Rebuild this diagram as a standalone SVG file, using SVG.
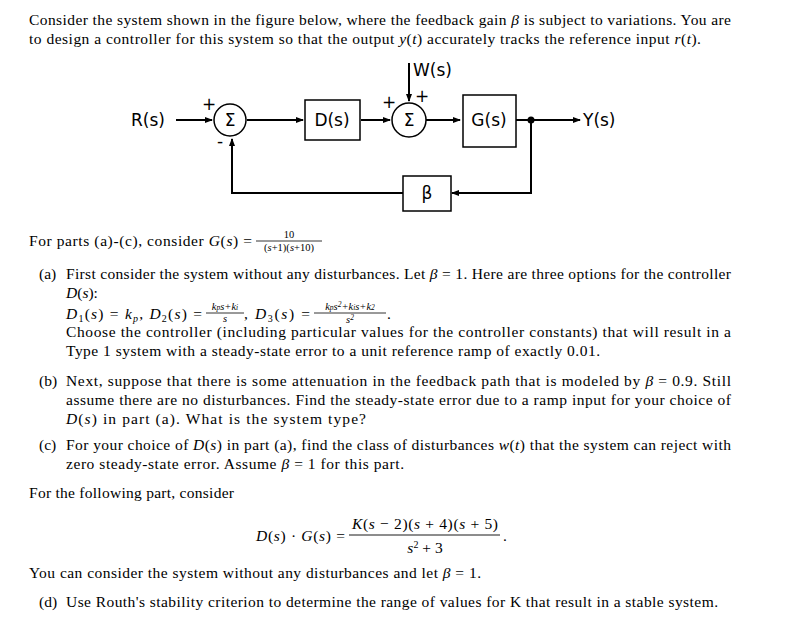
<svg xmlns="http://www.w3.org/2000/svg" width="793" height="620" viewBox="0 0 793 620">
<style>
.t{font-family:"Liberation Serif",serif;font-size:15.5px;fill:#000}
.s{font-family:"Liberation Serif",serif;font-size:10.5px;fill:#000}
.d{font-family:"DejaVu Sans",sans-serif;font-size:17px;fill:#000}
.b{fill:#fff;stroke:#000;stroke-width:1.5}
.w{fill:none;stroke:#000;stroke-width:2}
</style>
<defs><marker id="a" markerWidth="8" markerHeight="8" refX="7" refY="4" orient="auto" markerUnits="userSpaceOnUse"><path d="M0,1 L8,4 L0,7 z" fill="#000"/></marker></defs>
<rect width="793" height="620" fill="#fff"/>
<g id="connectors" class="w">
<path d="M176,120 H212" marker-end="url(#a)"/>
<path d="M247,120 H303" marker-end="url(#a)"/>
<path d="M361,120 H390" marker-end="url(#a)"/>
<path d="M409,63 V101" marker-end="url(#a)"/>
<path d="M426,120 H460" marker-end="url(#a)"/>
<path d="M516,120 H580" marker-end="url(#a)"/>
<path d="M531,120 V193 H452" marker-end="url(#a)"/>
<path d="M403,193 H232 V139" marker-end="url(#a)"/>
<circle cx="531" cy="120" r="2.5" fill="#000"/>
</g>
<g id="R"><text class="d" x="131" y="126">R(s)</text></g>
<g id="sum1"><circle class="b" cx="230" cy="120" r="16"/><text class="d" x="230" y="126" text-anchor="middle">Σ</text><text class="d" x="202" y="110">+</text><text class="d" x="217" y="147">-</text></g>
<g id="D"><rect class="b" x="305" y="100" width="55" height="40"/><text class="d" x="332" y="126" text-anchor="middle">D(s)</text></g>
<g id="sum2"><circle class="b" cx="409" cy="120" r="17"/><text class="d" x="409" y="126" text-anchor="middle">Σ</text><text class="d" x="382" y="108">+</text><text class="d" x="415" y="102">+</text></g>
<g id="W"><text class="d" x="413" y="76">W(s)</text></g>
<g id="G"><rect class="b" x="463" y="95" width="53" height="52"/><text class="d" x="489" y="126" text-anchor="middle">G(s)</text></g>
<g id="Y"><text class="d" x="583" y="126">Y(s)</text></g>
<g id="beta"><rect class="b" x="403" y="176" width="48" height="35"/><text class="d" x="427" y="199" text-anchor="middle">β</text></g>
<g id="text">
<text class="t" x="29" y="25" textLength="702" lengthAdjust="spacing">Consider the system shown in the figure below, where the feedback gain <tspan font-style="italic">β</tspan> is subject to variations. You are</text>
<text class="t" x="29" y="44" textLength="672" lengthAdjust="spacing">to design a controller for this system so that the output <tspan font-style="italic">y</tspan>(<tspan font-style="italic">t</tspan>) accurately tracks the reference input <tspan font-style="italic">r</tspan>(<tspan font-style="italic">t</tspan>).</text>
<text class="t" x="29" y="246" textLength="223" lengthAdjust="spacing">For parts (a)-(c), consider <tspan font-style="italic">G</tspan>(<tspan font-style="italic">s</tspan>) =</text>
<text class="s" x="289" y="238" text-anchor="middle">10</text>
<line x1="256" y1="241" x2="322" y2="241" stroke="#000" stroke-width="0.8"/>
<text class="s" x="289" y="251" text-anchor="middle">(<tspan font-style="italic">s</tspan>+1)(<tspan font-style="italic">s</tspan>+10)</text>
<text class="t" x="39" y="279">(a)</text>
<text class="t" x="66" y="279" textLength="665" lengthAdjust="spacing">First consider the system without any disturbances. Let <tspan font-style="italic">β</tspan> = 1. Here are three options for the controller</text>
<text class="t" x="66" y="298"><tspan font-style="italic">D</tspan>(<tspan font-style="italic">s</tspan>):</text>
<text class="t" x="66" y="319" textLength="136" lengthAdjust="spacing"><tspan font-style="italic">D</tspan><tspan font-size="10" dy="3">1</tspan><tspan dy="-3">(</tspan><tspan font-style="italic">s</tspan>) = <tspan font-style="italic">k</tspan><tspan font-size="10" font-style="italic" dy="3">p</tspan><tspan dy="-3">, </tspan><tspan font-style="italic">D</tspan><tspan font-size="10" dy="3">2</tspan><tspan dy="-3">(</tspan><tspan font-style="italic">s</tspan>) =</text>
<text class="s" x="225" y="310" text-anchor="middle" font-style="italic">k<tspan font-size="7.5">p</tspan>s+k<tspan font-size="7.5">i</tspan></text>
<line x1="206" y1="313" x2="244" y2="313" stroke="#000" stroke-width="0.8"/>
<text class="s" x="225" y="322" text-anchor="middle" font-style="italic">s</text>
<text class="t" x="244" y="319" textLength="66" lengthAdjust="spacing">, <tspan font-style="italic">D</tspan><tspan font-size="10" dy="3">3</tspan><tspan dy="-3">(</tspan><tspan font-style="italic">s</tspan>) =</text>
<text class="s" x="350" y="310" text-anchor="middle" font-style="italic">k<tspan font-size="7.5">p</tspan>s<tspan font-size="7.5" dy="-3">2</tspan><tspan dy="3">+k</tspan><tspan font-size="7.5">i</tspan>s+k<tspan font-size="7.5">2</tspan></text>
<line x1="314" y1="313" x2="386" y2="313" stroke="#000" stroke-width="0.8"/>
<text class="s" x="350" y="323" text-anchor="middle" font-style="italic">s<tspan font-size="7.5" dy="-3">2</tspan></text>
<text class="t" x="387" y="319">.</text>
<text class="t" x="66" y="337" textLength="665" lengthAdjust="spacing">Choose the controller (including particular values for the controller constants) that will result in a</text>
<text class="t" x="66" y="356" textLength="534" lengthAdjust="spacing">Type 1 system with a steady-state error to a unit reference ramp of exactly 0.01.</text>
<text class="t" x="39" y="386">(b)</text>
<text class="t" x="66" y="386" textLength="665" lengthAdjust="spacing">Next, suppose that there is some attenuation in the feedback path that is modeled by <tspan font-style="italic">β</tspan> = 0.9. Still</text>
<text class="t" x="66" y="405" textLength="665" lengthAdjust="spacing">assume there are no disturbances. Find the steady-state error due to a ramp input for your choice of</text>
<text class="t" x="66" y="424" textLength="300" lengthAdjust="spacing"><tspan font-style="italic">D</tspan>(<tspan font-style="italic">s</tspan>) in part (a). What is the system type?</text>
<text class="t" x="39" y="450">(c)</text>
<text class="t" x="66" y="450" textLength="665" lengthAdjust="spacing">For your choice of <tspan font-style="italic">D</tspan>(<tspan font-style="italic">s</tspan>) in part (a), find the class of disturbances <tspan font-style="italic">w</tspan>(<tspan font-style="italic">t</tspan>) that the system can reject with</text>
<text class="t" x="66" y="469" textLength="338" lengthAdjust="spacing">zero steady-state error. Assume <tspan font-style="italic">β</tspan> = 1 for this part.</text>
<text class="t" x="29" y="498" textLength="205" lengthAdjust="spacing">For the following part, consider</text>
<text class="t" x="256" y="541" textLength="89" lengthAdjust="spacing"><tspan font-style="italic">D</tspan>(<tspan font-style="italic">s</tspan>) · <tspan font-style="italic">G</tspan>(<tspan font-style="italic">s</tspan>) =</text>
<text class="t" x="352" y="529" textLength="146" lengthAdjust="spacing"><tspan font-style="italic">K</tspan>(<tspan font-style="italic">s</tspan> − 2)(<tspan font-style="italic">s</tspan> + 4)(<tspan font-style="italic">s</tspan> + 5)</text>
<line x1="349" y1="535" x2="500" y2="535" stroke="#000" stroke-width="0.9"/>
<text class="t" x="503" y="541">.</text>
<text class="t" x="425" y="553" text-anchor="middle"><tspan font-style="italic">s</tspan><tspan font-size="10" dy="-5">2</tspan><tspan dy="5"> + 3</tspan></text>
<text class="t" x="29" y="578" textLength="452" lengthAdjust="spacing">You can consider the system without any disturbances and let <tspan font-style="italic">β</tspan> = 1.</text>
<text class="t" x="39" y="607">(d)</text>
<text class="t" x="66" y="607" textLength="652" lengthAdjust="spacing">Use Routh's stability criterion to determine the range of values for K that result in a stable system.</text>
</g>
</svg>
